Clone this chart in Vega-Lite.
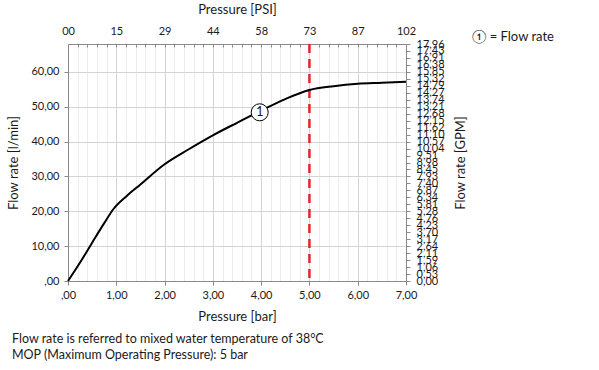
{
  "$schema": "https://vega.github.io/schema/vega-lite/v6.json",
  "width": 338,
  "height": 237,
  "autosize": {"type": "none"},
  "padding": {"left": 68, "top": 44, "right": 193, "bottom": 89},
  "background": "white",
  "config": {
    "font": "Lato",
    "view": {"stroke": null},
    "axis": {
      "labelFont": "Lato",
      "titleFont": "Lato",
      "labelFontSize": 11,
      "titleFontSize": 13,
      "titleFontWeight": "normal",
      "labelColor": "#1a1a1a",
      "titleColor": "#1a1a1a",
      "domainColor": "#8a8a8a",
      "tickColor": "#8a8a8a",
      "gridColor": "#d6d6d6"
    }
  },
  "title": {
    "text": ["Flow rate is referred to mixed water temperature of 38°C", "MOP (Maximum Operating Pressure): 5 bar"],
    "orient": "bottom",
    "anchor": "start",
    "frame": "group",
    "dx": -56,
    "offset": 10,
    "font": "Lato",
    "fontSize": 12.5,
    "fontWeight": "normal",
    "color": "#1a1a1a",
    "lineHeight": 16
  },
  "datasets": {
    "curve": [
      {"p": 0.0, "q": 0.0, "series": "Flow rate"},
      {"p": 0.25, "q": 5.3, "series": "Flow rate"},
      {"p": 0.5, "q": 11.0, "series": "Flow rate"},
      {"p": 0.75, "q": 16.6, "series": "Flow rate"},
      {"p": 0.95, "q": 20.8, "series": "Flow rate"},
      {"p": 1.2, "q": 24.2, "series": "Flow rate"},
      {"p": 1.5, "q": 27.7, "series": "Flow rate"},
      {"p": 2.0, "q": 33.5, "series": "Flow rate"},
      {"p": 2.5, "q": 37.8, "series": "Flow rate"},
      {"p": 3.0, "q": 41.8, "series": "Flow rate"},
      {"p": 3.5, "q": 45.4, "series": "Flow rate"},
      {"p": 4.0, "q": 48.9, "series": "Flow rate"},
      {"p": 4.5, "q": 52.2, "series": "Flow rate"},
      {"p": 5.0, "q": 54.8, "series": "Flow rate"},
      {"p": 5.5, "q": 55.9, "series": "Flow rate"},
      {"p": 6.0, "q": 56.6, "series": "Flow rate"},
      {"p": 6.5, "q": 56.9, "series": "Flow rate"},
      {"p": 7.0, "q": 57.2, "series": "Flow rate"}
    ],
    "mop": [{"p": 5}],
    "marker": [{"p": 3.97, "q": 48.4, "label": "1"}]
  },
  "resolve": {"axis": {"x": "independent", "y": "independent"}},
  "layer": [
    {
      "data": {"name": "mop"},
      "mark": {"type": "rule", "color": "#e3262b", "strokeWidth": 2.5, "strokeDash": [9, 6]},
      "encoding": {
        "x": {
          "field": "p",
          "type": "quantitative",
          "scale": {"domain": [0, 7], "nice": false, "zero": false},
          "axis": {
            "orient": "top",
            "title": "Pressure [PSI]",
            "values": [0, 0.2, 0.4, 0.6, 0.8, 1, 1.2, 1.4, 1.6, 1.8, 2, 2.2, 2.4, 2.6, 2.8, 3, 3.2, 3.4, 3.6, 3.8, 4, 4.2, 4.4, 4.6, 4.8, 5, 5.2, 5.4, 5.6, 5.8, 6, 6.2, 6.4, 6.6, 6.8, 7],
            "labelExpr": "abs(datum.value - round(datum.value)) < 0.001 ? format(round(datum.value * 14.5038), '02d') : ''",
            "labelOverlap": false,
            "labelFlush": false,
            "grid": true,
            "gridColor": {"condition": {"test": "abs(datum.value - round(datum.value)) < 0.001", "value": "#d4d4d4"}, "value": "#ececec"},
            "tickSize": -3,
            "labelPadding": 11,
            "titlePadding": 9
          }
        }
      }
    },
    {
      "data": {"name": "curve"},
      "mark": {"type": "line", "strokeWidth": 2, "interpolate": "monotone"},
      "encoding": {
        "x": {
          "field": "p",
          "type": "quantitative",
          "scale": {"domain": [0, 7], "nice": false, "zero": false},
          "axis": {
            "orient": "bottom",
            "title": "Pressure [bar]",
            "values": [0, 1, 2, 3, 4, 5, 6, 7],
            "labelExpr": "datum.value == 0 ? ',00' : replace(format(datum.value, '.2f'), '.', ',')",
            "labelFlush": false,
            "grid": false,
            "tickSize": 4,
            "labelPadding": 4,
            "titlePadding": 10
          }
        },
        "y": {
          "field": "q",
          "type": "quantitative",
          "scale": {"domain": [0, 68], "nice": false},
          "axis": {
            "orient": "left",
            "title": "Flow rate [l/min]",
            "values": [0, 10, 20, 30, 40, 50, 60],
            "labelExpr": "datum.value == 0 ? ',00' : replace(format(datum.value, '.2f'), '.', ',')",
            "grid": true,
            "gridColor": "#d4d4d4",
            "tickSize": 4,
            "labelPadding": 5,
            "titlePadding": 10
          }
        },
        "stroke": {
          "field": "series",
          "type": "nominal",
          "scale": {"range": ["black"]},
          "legend": {
            "orient": "none",
            "legendX": 391,
            "legendY": -14,
            "title": null,
            "symbolOpacity": 0,
            "symbolSize": 1,
            "labelOffset": 0,
            "labelFontSize": 13,
            "labelColor": "#1a1a1a",
            "labelFont": "Lato",
            "labelExpr": "'① = ' + datum.label"
          }
        }
      }
    },
    {
      "data": {"name": "marker"},
      "mark": {"type": "point", "filled": true, "fill": "white", "stroke": "black", "strokeWidth": 1, "size": 290, "opacity": 1},
      "encoding": {
        "x": {"field": "p", "type": "quantitative", "scale": {"domain": [0, 7], "nice": false, "zero": false}, "axis": null},
        "y": {
          "field": "q",
          "type": "quantitative",
          "scale": {"domain": [0, 68], "nice": false},
          "axis": {
            "orient": "right",
            "title": "Flow rate [GPM]",
            "titleAngle": -90,
            "values": [0, 2, 4, 6, 8, 10, 12, 14, 16, 18, 20, 22, 24, 26, 28, 30, 32, 34, 36, 38, 40, 42, 44, 46, 48, 50, 52, 54, 56, 58, 60, 62, 64, 66, 68],
            "labelExpr": "datum.value == 66 ? '17,43' : replace(format(datum.value / 3.785412, '.2f'), '.', ',')",
            "labelOverlap": false,
            "labelFlush": false,
            "grid": false,
            "tickSize": 4,
            "labelPadding": 6,
            "titlePadding": 23
          }
        }
      }
    },
    {
      "data": {"name": "marker"},
      "mark": {"type": "text", "fontSize": 13, "font": "Lato", "color": "#1a1a1a", "align": "center", "baseline": "middle"},
      "encoding": {
        "x": {"field": "p", "type": "quantitative", "scale": {"domain": [0, 7], "nice": false, "zero": false}, "axis": null},
        "y": {"field": "q", "type": "quantitative", "scale": {"domain": [0, 68], "nice": false}, "axis": null},
        "text": {"field": "label"}
      }
    }
  ]
}
